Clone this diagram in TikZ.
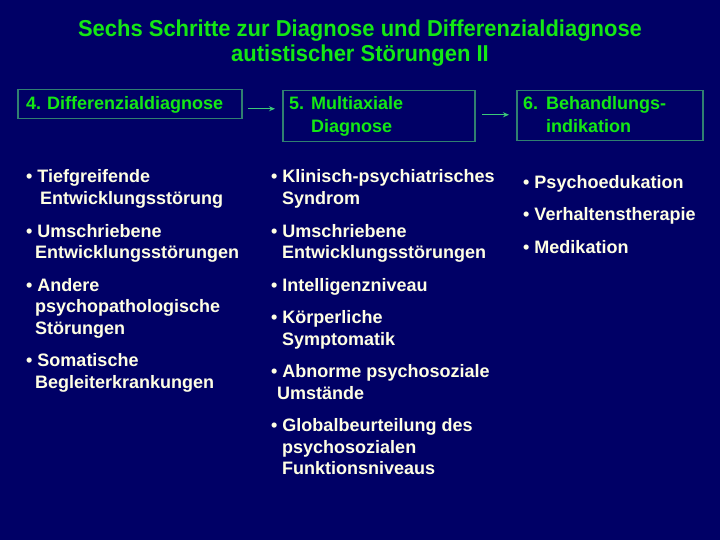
\documentclass[tikz,border=0pt]{standalone}
\usepackage{fontspec}
\setmainfont{Liberation Sans}
\newfontfamily\titlefont[FakeStretch=0.955]{Liberation Sans}
\usetikzlibrary{arrows.meta}
\definecolor{bg}{RGB}{0,0,102}
\definecolor{tgreen}{RGB}{20,232,20}
\definecolor{boxc}{RGB}{48,128,112}
\definecolor{arrc}{RGB}{60,200,120}
\definecolor{cream}{RGB}{255,255,228}
\newcommand\bl[4]{\node[btext] (#1) at (#2,#3) {#4};}
\begin{document}
\begin{tikzpicture}[x=1pt,y=-1pt,
  btext/.style={inner sep=0pt, anchor=base west, text=cream, font=\fontsize{18}{21.5}\selectfont\bfseries},
  gtext/.style={inner sep=0pt, anchor=base west, text=tgreen, font=\fontsize{18}{21.5}\selectfont\bfseries},
  ttext/.style={inner sep=0pt, anchor=base, text=tgreen, font=\titlefont\fontsize{23}{26}\selectfont\bfseries},
  stepbox/.style={draw=boxc, line width=1.5pt, inner sep=0pt, anchor=north west},
  arr/.style={draw=arrc, line width=1.2pt, -{Stealth[length=6pt,width=5pt]}}]
\fill[bg] (0,0) rectangle (720,540);
\useasboundingbox (0,0) rectangle (720,540);
% title
\node[ttext] (t1) at (360,36.7) {Sechs Schritte zur Diagnose und Differenzialdiagnose};
\node[ttext] (t2) at (360,62) {autistischer Störungen II};
% boxes
\node[stepbox, minimum width=224pt, minimum height=29pt] (b1) at (17,89) {};
\node[stepbox, minimum width=192pt, minimum height=51pt] (b2) at (282,90) {};
\node[stepbox, minimum width=186pt, minimum height=50pt] (b3) at (516,90) {};
\node[gtext] (n4) at (26,110) {4.};
\node[gtext] (h4) at (47,110) {Differenzialdiagnose};
\node[gtext] (n5) at (289,110) {5.};
\node[gtext] (h5a) at (311,110) {Multiaxiale};
\node[gtext] (h5b) at (311,133) {Diagnose};
\node[gtext] (n6) at (523,110) {6.};
\node[gtext] (h6a) at (546,110) {Behandlungs-};
\node[gtext] (h6b) at (546,133) {indikation};
% arrows
\draw[arr] ([xshift=5pt,yshift=-4.5pt]b1.east) -- ([xshift=-7pt,yshift=-4.5pt]b1.east -| b2.west);
\draw[arr] ([xshift=6.5pt,yshift=1.5pt]b2.east) -- ([xshift=-7pt,yshift=1.5pt]b2.east -| b3.west);
% left column
\bl{la1}{26}{183}{• Tiefgreifende}
\bl{la2}{40}{204.5}{Entwicklungsstörung}
\bl{lb1}{26}{237}{• Umschriebene}
\bl{lb2}{35}{258.5}{Entwicklungsstörungen}
\bl{lc1}{26}{291}{• Andere}
\bl{lc2}{35}{312.5}{psychopathologische}
\bl{lc3}{35}{334}{Störungen}
\bl{ld1}{26}{366.5}{• Somatische}
\bl{ld2}{35}{388}{Begleiterkrankungen}
% middle column
\bl{ma1}{271}{183}{• Klinisch-psychiatrisches}
\bl{ma2}{282}{204.5}{Syndrom}
\bl{mb1}{271}{237}{• Umschriebene}
\bl{mb2}{282}{258.5}{Entwicklungsstörungen}
\bl{mc1}{271}{291}{• Intelligenzniveau}
\bl{md1}{271}{323.5}{• Körperliche}
\bl{md2}{282}{345}{Symptomatik}
\bl{me1}{271}{377.5}{• Abnorme psychosoziale}
\bl{me2}{277}{399}{Umstände}
\bl{mf1}{271}{431.5}{• Globalbeurteilung des}
\bl{mf2}{282}{453}{psychosozialen}
\bl{mf3}{282}{474.5}{Funktionsniveaus}
% right column
\bl{ra1}{523}{189}{• Psychoedukation}
\bl{rb1}{523}{221}{• Verhaltenstherapie}
\bl{rc1}{523}{253}{• Medikation}
\end{tikzpicture}
\end{document}
